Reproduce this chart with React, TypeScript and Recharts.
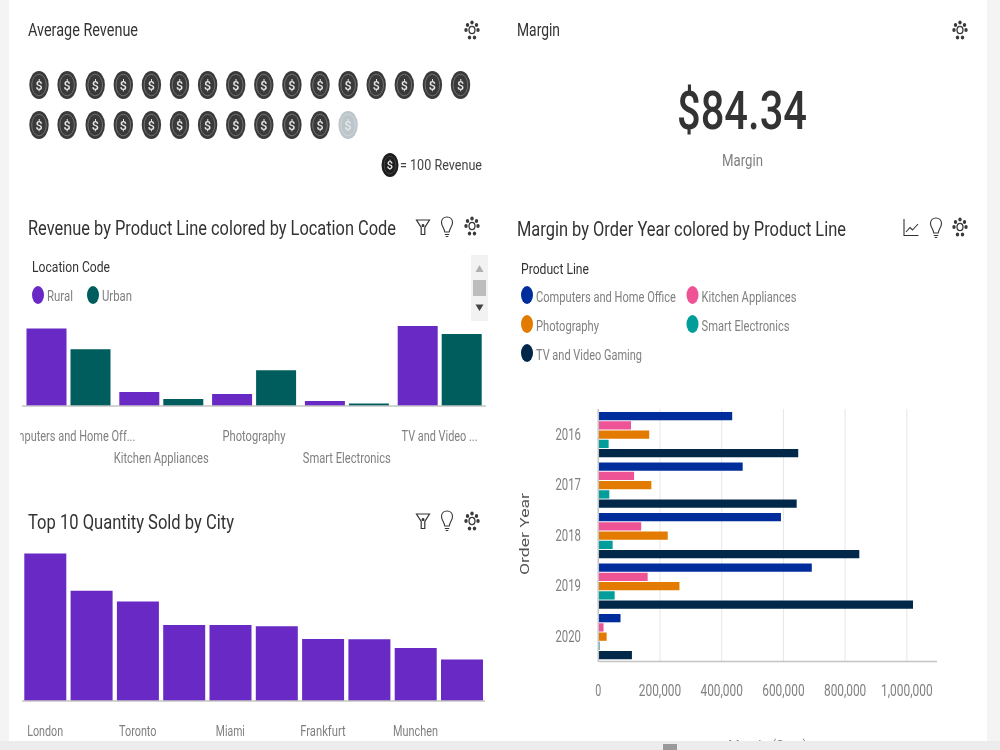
import React from "react";
import {
  BarChart,
  Bar,
  XAxis,
  YAxis,
  CartesianGrid,
  ScatterChart,
  Scatter,
} from "recharts";

// ---------- data ----------
const coinRowCounts = [16, 12];
const productLines = ["Computers and Home Office", "Kitchen Appliances", "Photography", "Smart Electronics", "TV and Video Gaming"];
const productTickLabels = ["Computers and Home Off...", "Kitchen Appliances", "Photography", "Smart Electronics", "TV and Video ..."];
const productTickWidths = [134, 95, 63, 88, 76];
const ruralRevenue = [78, 14, 12, 5, 80.5];
const urbanRevenue = [57, 7, 36, 2.5, 72.5];

const cities = ["London", "", "Toronto", "", "Miami", "", "Frankfurt", "", "Munchen", ""];
const cityTickWidths = [36, 0, 37.5, 0, 29, 0, 45.5, 0, 45, 0];
const cityQuantity = [151.3, 113, 102, 78, 78, 76.7, 63.7, 63.3, 54.4, 42.5];

const orderYears = ["2016", "2017", "2018", "2019", "2020"];
const computersMargin = [434000, 468000, 592000, 692000, 72000];
const kitchenMargin = [106000, 116000, 139000, 160000, 17000];
const photographyMargin = [165000, 172000, 225000, 263000, 27000];
const smartMargin = [33500, 35700, 46500, 53000, 4300];
const tvMargin = [648000, 643000, 846000, 1020000, 109000];
const marginTicks = [0, 200000, 400000, 600000, 800000, 1000000];
const marginTickWidths = [6, 42.3, 42.3, 42.3, 42.3, 51.7];

const PURPLE = "#6929c4";
const DEEP_TEAL = "#005d5d";
const productColors = ["#002d9c", "#ee5396", "#e27b00", "#009d9a", "#012749"];

const revenueRows = productLines.map((p, i) => ({ name: p, rural: ruralRevenue[i], urban: urbanRevenue[i] }));
const cityRows = cities.map((c, i) => ({ name: c, qty: cityQuantity[i] }));
const marginRows = orderYears.map((y, i) => ({
  year: y,
  computers: computersMargin[i],
  kitchen: kitchenMargin[i],
  photography: photographyMargin[i],
  smart: smartMargin[i],
  tv: tvMargin[i],
}));
const coinRows: { col: number; row: number; faded: boolean }[] = [];
coinRowCounts.forEach((count, row) => {
  for (let col = 0; col < count; col++) {
    coinRows.push({ col, row, faded: row === coinRowCounts.length - 1 && col === count - 1 });
  }
});

// ---------- helpers ----------
const FONT = "Roboto, 'Noto Sans', sans-serif";
const DARK = "#333333";
const GRAY = "#808080";
const AXIS = "#c4c4c4";

function Txt({ x, y, w, size, color = GRAY, anchor = "start", children, weight }: any) {
  return (
    <text
      x={x}
      y={y}
      fontFamily={FONT}
      fontSize={size}
      fontWeight={weight}
      fill={color}
      textAnchor={anchor}
      dominantBaseline="central"
      textLength={w || undefined}
      lengthAdjust={w ? "spacingAndGlyphs" : undefined}
    >
      {children}
    </text>
  );
}

function DotsIcon({ x, y }: any) {
  const spots = [[0, -7.5], [-4.5, -5], [4.5, -5], [-6, 0], [6, 0], [-2.5, 7.5], [2.5, 7.5]];
  return (
    <g transform={`translate(${x},${y})`}>
      {spots.map((s, i) => (
        <ellipse key={i} cx={s[0]} cy={s[1]} rx={1.7} ry={1.9} fill="#3a3a3a" />
      ))}
      <ellipse cx={0} cy={0} rx={3} ry={3.6} fill="none" stroke="#3a3a3a" strokeWidth={1.3} />
    </g>
  );
}
function BulbIcon({ x, y }: any) {
  return (
    <g transform={`translate(${x},${y})`} fill="none" stroke="#333" strokeWidth={1.1}>
      <path d="M-2.2 5 C-2.6 1.5 -5.5 -1 -5.5 -4.5 C-5.5 -8 -3 -10 0 -10 C3 -10 5.5 -8 5.5 -4.5 C5.5 -1 2.6 1.5 2.2 5 Z" />
      <path d="M-2.2 7.5 H2.2 M-1.3 9.5 H1.3" />
    </g>
  );
}
function FilterIcon({ x, y }: any) {
  return (
    <g transform={`translate(${x},${y})`} fill="none" stroke="#333" strokeWidth={1.2}>
      <path d="M-6.5 -7 H6.5 L1.8 0.5 V7.5 H-1.8 V0.5 Z" />
      <circle cx={0} cy={-1.5} r={0.9} fill="#333" />
    </g>
  );
}
function LineChartIcon({ x, y }: any) {
  return (
    <g transform={`translate(${x},${y})`} fill="none" stroke="#333" strokeWidth={1.1}>
      <path d="M-7 -9 V7.5 H7.5" />
      <path d="M-5 4 L-1 -0.5 L1.5 2 L7 -4" />
    </g>
  );
}

function Coin({ cx, cy, payload }: any) {
  const faded = payload && payload.faded;
  return (
    <g>
      <ellipse cx={cx} cy={cy} rx={9.7} ry={14} fill={faded ? "#bcc5ca" : "#3a3a3a"} />
      <ellipse cx={cx} cy={cy} rx={7.3} ry={10.8} fill="none" stroke={faded ? "#d3d9dc" : "#777777"} strokeWidth={0.9} />
      <text
        x={cx}
        y={cy}
        textAnchor="middle"
        dominantBaseline="central"
        fontFamily={FONT}
        fontWeight={500}
        fontSize={12.5}
        fill={faded ? "#e4e8ea" : "#e6e6e6"}
      >
        $
      </text>
    </g>
  );
}

function ProductTick({ x, index }: any) {
  const row = index % 2;
  return (
    <text
      x={x}
      y={row ? 458 - 300 : 436 - 300}
      textAnchor="middle"
      dominantBaseline="central"
      fontFamily={FONT}
      fontSize={15}
      fill={GRAY}
      textLength={productTickWidths[index]}
      lengthAdjust="spacingAndGlyphs"
    >
      {productTickLabels[index]}
    </text>
  );
}
function CityTick({ x, payload, index }: any) {
  if (!payload.value) return null;
  return (
    <text
      x={x}
      y={731 - 540}
      textAnchor="middle"
      dominantBaseline="central"
      fontFamily={FONT}
      fontSize={15}
      fill={GRAY}
      textLength={cityTickWidths[index]}
      lengthAdjust="spacingAndGlyphs"
    >
      {payload.value}
    </text>
  );
}
function YearTick({ y, payload }: any) {
  return (
    <text
      x={581 - 515}
      y={y}
      textAnchor="end"
      dominantBaseline="central"
      fontFamily={FONT}
      fontSize={16.5}
      fill={GRAY}
      textLength={25.5}
      lengthAdjust="spacingAndGlyphs"
    >
      {payload.value}
    </text>
  );
}
function MarginTick({ x, payload, index }: any) {
  return (
    <text
      x={x}
      y={690 - 400}
      textAnchor="middle"
      dominantBaseline="central"
      fontFamily={FONT}
      fontSize={16.5}
      fill={GRAY}
      textLength={marginTickWidths[index]}
      lengthAdjust="spacingAndGlyphs"
    >
      {payload.value.toLocaleString("en-US")}
    </text>
  );
}

const abs = (left: number, top: number): React.CSSProperties => ({ position: "absolute", left, top });

export default function App() {
  return (
    <div style={{ position: "fixed", left: 0, top: 0, width: 1000, height: 750, overflow: "hidden", background: "#f4f4f4", filter: "blur(0.4px)" }}>
      <div style={{ position: "absolute", left: 9, top: 0, width: 978, height: 750, background: "#fff" }} />

      <div style={abs(20, 65)}>
        <ScatterChart width={460} height={80} margin={{ top: 20, bottom: 20, left: 19, right: 19.5 }}>
          <XAxis type="number" dataKey="col" domain={[0, 15]} hide />
          <YAxis type="number" dataKey="row" domain={[0, 1]} reversed hide />
          <Scatter data={coinRows} isAnimationActive={false} shape={<Coin />} />
        </ScatterChart>
      </div>

      <div style={abs(20, 300)}>
        <BarChart
          width={470}
          height={180}
          data={revenueRows}
          margin={{ top: 25.5, left: 2, right: 4, bottom: 0 }}
          barGap={4}
          barCategoryGap={4.5}
        >
          <XAxis dataKey="name" interval={0} height={74} tick={<ProductTick />} tickLine={false} axisLine={{ stroke: AXIS, strokeWidth: 1.5 }} />
          <YAxis width={0} domain={[0, 81]} tick={false} tickLine={false} axisLine={{ stroke: AXIS, strokeWidth: 1.5 }} />
          <Bar dataKey="rural" fill={PURPLE} isAnimationActive={false} />
          <Bar dataKey="urban" fill={DEEP_TEAL} isAnimationActive={false} />
        </BarChart>
      </div>

      <div style={abs(20, 540)}>
        <BarChart
          width={470}
          height={210}
          data={cityRows}
          margin={{ top: 13.3, left: 2, right: 5, bottom: 0 }}
          barCategoryGap={2.3}
        >
          <CartesianGrid vertical={false} stroke="#e6e6e6" horizontalValues={[100]} />
          <XAxis dataKey="name" interval={0} height={49} tick={<CityTick />} tickLine={false} axisLine={{ stroke: AXIS, strokeWidth: 1.5 }} />
          <YAxis width={0} domain={[0, 151.5]} ticks={[0, 100]} tick={false} tickLine={false} axisLine={{ stroke: AXIS, strokeWidth: 1.5 }} />
          <Bar dataKey="qty" fill={PURPLE} isAnimationActive={false} />
        </BarChart>
      </div>

      <div style={abs(515, 400)}>
        <BarChart
          layout="vertical"
          width={440}
          height={350}
          data={marginRows}
          margin={{ top: 9, left: 0, right: 18, bottom: 0 }}
          barSize={8.3}
          barGap={0.95}
        >
          <CartesianGrid horizontal={false} stroke="#e6e6e6" verticalValues={marginTicks} />
          <XAxis
            type="number"
            domain={[0, 1097800]}
            ticks={marginTicks}
            height={88.5}
            tick={<MarginTick />}
            tickLine={false}
            axisLine={{ stroke: AXIS, strokeWidth: 1.5 }}
            label={{ value: "Margin (Sum)", position: "insideBottom", offset: 1.5, fill: GRAY, fontFamily: FONT, fontSize: 13 }}
          />
          <YAxis
            type="category"
            dataKey="year"
            width={83.3}
            tick={<YearTick />}
            tickLine={false}
            axisLine={{ stroke: AXIS, strokeWidth: 1.5 }}
          />
          <Bar dataKey="computers" fill={productColors[0]} isAnimationActive={false} />
          <Bar dataKey="kitchen" fill={productColors[1]} isAnimationActive={false} />
          <Bar dataKey="photography" fill={productColors[2]} isAnimationActive={false} />
          <Bar dataKey="smart" fill={productColors[3]} isAnimationActive={false} />
          <Bar dataKey="tv" fill={productColors[4]} isAnimationActive={false} />
        </BarChart>
      </div>

      {/* scrollbars of the page */}
      <div style={{ position: "absolute", left: 0, top: 741, width: 1000, height: 9, background: "#ececec" }} />
      <div style={{ position: "absolute", left: 663, top: 744, width: 14, height: 6, background: "#9a9a9a" }} />

      <svg width={1000} height={750} style={{ position: "absolute", left: 0, top: 0, pointerEvents: "none" }}>
        <Txt x={28} y={29} w={110} size={18} color={DARK}>Average Revenue</Txt>
        <Txt x={517} y={29} w={43} size={18} color={DARK}>Margin</Txt>
        <DotsIcon x={472} y={30} />
        <DotsIcon x={960} y={30} />

        <ellipse cx={390} cy={165} rx={8.5} ry={12} fill="#1c1c1c" />
        <ellipse cx={390} cy={165} rx={5.8} ry={8.8} fill="none" stroke="#555" strokeWidth={0.7} />
        <text x={390} y={165} textAnchor="middle" dominantBaseline="central" fontFamily={FONT} fontWeight={500} fontSize={11} fill="#eee">$</text>
        <Txt x={400} y={165} w={82} size={15} color="#444">= 100 Revenue</Txt>

        <Txt x={677} y={110.5} w={130} size={54} weight={500} color={DARK}>$84.34</Txt>
        <Txt x={722} y={160} w={41} size={16} color={GRAY}>Margin</Txt>

        <Txt x={28} y={228} w={368} size={21} color={DARK}>Revenue by Product Line colored by Location Code</Txt>
        <FilterIcon x={423} y={227} />
        <BulbIcon x={447} y={227} />
        <DotsIcon x={472} y={226} />
        <Txt x={32} y={267} w={78} size={15} color={DARK}>Location Code</Txt>
        <ellipse cx={38} cy={295} rx={6} ry={9} fill={PURPLE} />
        <Txt x={47} y={296} w={26} size={15}>Rural</Txt>
        <ellipse cx={93} cy={295} rx={6} ry={9} fill={DEEP_TEAL} />
        <Txt x={102} y={296} w={30} size={15}>Urban</Txt>

        <rect x={471} y={255} width={17} height={66} fill="#f2f2f2" />
        <polygon points="479.5,265 475.5,272 483.5,272" fill="#b0b0b0" />
        <rect x={473} y={280} width={13} height={16} fill="#bdbdbd" />
        <polygon points="479.5,311 475.5,304.5 483.5,304.5" fill="#444" />

        <Txt x={517} y={229} w={329} size={21} color={DARK}>Margin by Order Year colored by Product Line</Txt>
        <LineChartIcon x={911} y={228} />
        <BulbIcon x={936} y={228} />
        <DotsIcon x={960} y={227} />
        <Txt x={521} y={269} w={68} size={15} color={DARK}>Product Line</Txt>
        <ellipse cx={527} cy={295} rx={6} ry={9} fill={productColors[0]} />
        <Txt x={536} y={296.5} w={140} size={15}>{productLines[0]}</Txt>
        <ellipse cx={692.5} cy={295} rx={6} ry={9} fill={productColors[1]} />
        <Txt x={701.5} y={296.5} w={95} size={15}>{productLines[1]}</Txt>
        <ellipse cx={527} cy={324} rx={6} ry={9} fill={productColors[2]} />
        <Txt x={536} y={325.5} w={63} size={15}>{productLines[2]}</Txt>
        <ellipse cx={692.5} cy={324} rx={6} ry={9} fill={productColors[3]} />
        <Txt x={701.5} y={325.5} w={88} size={15}>{productLines[3]}</Txt>
        <ellipse cx={527} cy={353} rx={6} ry={9} fill={productColors[4]} />
        <Txt x={536} y={354.5} w={106} size={15}>{productLines[4]}</Txt>

        <Txt x={28} y={522} w={206} size={21} color={DARK}>Top 10 Quantity Sold by City</Txt>
        <FilterIcon x={423} y={521} />
        <BulbIcon x={447} y={521} />
        <DotsIcon x={472} y={521} />

        <g transform="translate(524,534) rotate(-90)">
          <Txt x={0} y={0} w={82} size={12.5} color="#555" anchor="middle">Order Year</Txt>
        </g>
      </svg>
    </div>
  );
}
